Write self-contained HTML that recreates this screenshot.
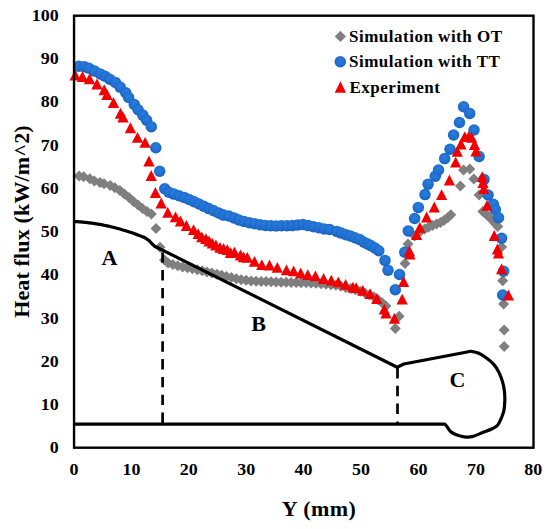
<!DOCTYPE html>
<html><head><meta charset="utf-8"><style>
html,body{margin:0;padding:0;background:#fff;width:550px;height:529px;overflow:hidden}
svg{display:block}
.t{font-family:"Liberation Serif",serif;font-weight:bold;font-size:18px;fill:#000}
.ti{font-family:"Liberation Serif",serif;font-weight:bold;font-size:22px;fill:#000}
.lg{font-family:"Liberation Serif",serif;font-weight:bold;font-size:17px;letter-spacing:0.5px;fill:#000}
</style></head><body>
<svg width="550" height="529" viewBox="0 0 550 529">
<defs><radialGradient id="bg" cx="0.5" cy="0.45" r="0.55" fx="0.5" fy="0.35"><stop offset="0" stop-color="#2b7ddc"/><stop offset="0.7" stop-color="#1f6fd0"/><stop offset="1" stop-color="#1760bd"/></radialGradient></defs>
<path d="M79.1 170.4L84.6 175.9L79.1 181.4L73.6 175.9Z" fill="#7f7f7f"/>
<path d="M83.6 171.2L89.1 176.7L83.6 182.2L78.1 176.7Z" fill="#7f7f7f"/>
<path d="M89.8 173.2L95.3 178.7L89.8 184.2L84.3 178.7Z" fill="#7f7f7f"/>
<path d="M94.4 175.5L99.9 181.0L94.4 186.5L88.9 181.0Z" fill="#7f7f7f"/>
<path d="M100.0 176.9L105.5 182.4L100.0 187.9L94.5 182.4Z" fill="#7f7f7f"/>
<path d="M104.0 178.3L109.5 183.8L104.0 189.3L98.5 183.8Z" fill="#7f7f7f"/>
<path d="M110.2 180.0L115.7 185.5L110.2 191.0L104.7 185.5Z" fill="#7f7f7f"/>
<path d="M114.8 182.3L120.3 187.8L114.8 193.3L109.3 187.8Z" fill="#7f7f7f"/>
<path d="M119.9 185.1L125.4 190.6L119.9 196.1L114.4 190.6Z" fill="#7f7f7f"/>
<path d="M124.4 188.5L129.9 194.0L124.4 199.5L118.9 194.0Z" fill="#7f7f7f"/>
<path d="M129.0 191.9L134.5 197.4L129.0 202.9L123.5 197.4Z" fill="#7f7f7f"/>
<path d="M133.5 196.0L139.0 201.5L133.5 207.0L128.0 201.5Z" fill="#7f7f7f"/>
<path d="M138.0 199.5L143.5 205.0L138.0 210.5L132.5 205.0Z" fill="#7f7f7f"/>
<path d="M142.5 203.0L148.0 208.5L142.5 214.0L137.0 208.5Z" fill="#7f7f7f"/>
<path d="M147.0 206.0L152.5 211.5L147.0 217.0L141.5 211.5Z" fill="#7f7f7f"/>
<path d="M151.4 208.5L156.9 214.0L151.4 219.5L145.9 214.0Z" fill="#7f7f7f"/>
<path d="M156.0 223.1L161.5 228.6L156.0 234.1L150.5 228.6Z" fill="#7f7f7f"/>
<path d="M160.0 241.8L165.5 247.3L160.0 252.8L154.5 247.3Z" fill="#7f7f7f"/>
<path d="M164.5 254.5L170.0 260.0L164.5 265.5L159.0 260.0Z" fill="#7f7f7f"/>
<path d="M168.1 257.6L173.6 263.1L168.1 268.6L162.6 263.1Z" fill="#7f7f7f"/>
<path d="M172.8 259.1L178.3 264.6L172.8 270.1L167.3 264.6Z" fill="#7f7f7f"/>
<path d="M177.7 260.2L183.2 265.7L177.7 271.2L172.2 265.7Z" fill="#7f7f7f"/>
<path d="M182.6 261.4L188.1 266.9L182.6 272.4L177.1 266.9Z" fill="#7f7f7f"/>
<path d="M187.5 262.3L193.0 267.8L187.5 273.3L182.0 267.8Z" fill="#7f7f7f"/>
<path d="M192.4 263.3L197.9 268.8L192.4 274.3L186.9 268.8Z" fill="#7f7f7f"/>
<path d="M197.3 264.2L202.8 269.7L197.3 275.2L191.8 269.7Z" fill="#7f7f7f"/>
<path d="M202.2 265.3L207.7 270.8L202.2 276.3L196.7 270.8Z" fill="#7f7f7f"/>
<path d="M207.0 266.5L212.5 272.0L207.0 277.5L201.5 272.0Z" fill="#7f7f7f"/>
<path d="M211.9 267.6L217.4 273.1L211.9 278.6L206.4 273.1Z" fill="#7f7f7f"/>
<path d="M216.8 268.7L222.3 274.2L216.8 279.7L211.3 274.2Z" fill="#7f7f7f"/>
<path d="M221.6 269.8L227.1 275.3L221.6 280.8L216.1 275.3Z" fill="#7f7f7f"/>
<path d="M226.5 271.0L232.0 276.5L226.5 282.0L221.0 276.5Z" fill="#7f7f7f"/>
<path d="M231.4 272.1L236.9 277.6L231.4 283.1L225.9 277.6Z" fill="#7f7f7f"/>
<path d="M236.3 273.2L241.8 278.7L236.3 284.2L230.8 278.7Z" fill="#7f7f7f"/>
<path d="M241.2 274.2L246.7 279.7L241.2 285.2L235.7 279.7Z" fill="#7f7f7f"/>
<path d="M246.1 274.8L251.6 280.3L246.1 285.8L240.6 280.3Z" fill="#7f7f7f"/>
<path d="M251.1 275.4L256.6 280.9L251.1 286.4L245.6 280.9Z" fill="#7f7f7f"/>
<path d="M256.1 275.7L261.6 281.2L256.1 286.7L250.6 281.2Z" fill="#7f7f7f"/>
<path d="M261.1 275.9L266.6 281.4L261.1 286.9L255.6 281.4Z" fill="#7f7f7f"/>
<path d="M266.1 276.1L271.6 281.6L266.1 287.1L260.6 281.6Z" fill="#7f7f7f"/>
<path d="M271.1 276.3L276.6 281.8L271.1 287.3L265.6 281.8Z" fill="#7f7f7f"/>
<path d="M276.1 276.5L281.6 282.0L276.1 287.5L270.6 282.0Z" fill="#7f7f7f"/>
<path d="M281.1 276.7L286.6 282.2L281.1 287.7L275.6 282.2Z" fill="#7f7f7f"/>
<path d="M286.1 276.8L291.6 282.3L286.1 287.8L280.6 282.3Z" fill="#7f7f7f"/>
<path d="M291.1 277.0L296.6 282.5L291.1 288.0L285.6 282.5Z" fill="#7f7f7f"/>
<path d="M296.1 277.1L301.6 282.6L296.1 288.1L290.6 282.6Z" fill="#7f7f7f"/>
<path d="M301.1 277.2L306.6 282.7L301.1 288.2L295.6 282.7Z" fill="#7f7f7f"/>
<path d="M306.1 277.3L311.6 282.8L306.1 288.3L300.6 282.8Z" fill="#7f7f7f"/>
<path d="M311.1 277.5L316.6 283.0L311.1 288.5L305.6 283.0Z" fill="#7f7f7f"/>
<path d="M316.0 277.8L321.5 283.3L316.0 288.8L310.5 283.3Z" fill="#7f7f7f"/>
<path d="M321.0 278.3L326.5 283.8L321.0 289.3L315.5 283.8Z" fill="#7f7f7f"/>
<path d="M326.0 278.7L331.5 284.2L326.0 289.7L320.5 284.2Z" fill="#7f7f7f"/>
<path d="M331.0 279.2L336.5 284.7L331.0 290.2L325.5 284.7Z" fill="#7f7f7f"/>
<path d="M335.9 279.8L341.4 285.3L335.9 290.8L330.4 285.3Z" fill="#7f7f7f"/>
<path d="M340.8 280.8L346.3 286.3L340.8 291.8L335.3 286.3Z" fill="#7f7f7f"/>
<path d="M345.7 281.9L351.2 287.4L345.7 292.9L340.2 287.4Z" fill="#7f7f7f"/>
<path d="M350.6 282.9L356.1 288.4L350.6 293.9L345.1 288.4Z" fill="#7f7f7f"/>
<path d="M355.4 284.3L360.9 289.8L355.4 295.3L349.9 289.8Z" fill="#7f7f7f"/>
<path d="M360.2 285.8L365.7 291.3L360.2 296.8L354.7 291.3Z" fill="#7f7f7f"/>
<path d="M364.9 287.6L370.4 293.1L364.9 298.6L359.4 293.1Z" fill="#7f7f7f"/>
<path d="M369.5 289.5L375.0 295.0L369.5 300.5L364.0 295.0Z" fill="#7f7f7f"/>
<path d="M374.0 291.5L379.5 297.0L374.0 302.5L368.5 297.0Z" fill="#7f7f7f"/>
<path d="M378.2 294.2L383.7 299.7L378.2 305.2L372.7 299.7Z" fill="#7f7f7f"/>
<path d="M382.1 297.3L387.6 302.8L382.1 308.3L376.6 302.8Z" fill="#7f7f7f"/>
<path d="M385.9 300.6L391.4 306.1L385.9 311.6L380.4 306.1Z" fill="#7f7f7f"/>
<path d="M395.3 323.0L400.8 328.5L395.3 334.0L389.8 328.5Z" fill="#7f7f7f"/>
<path d="M399.1 310.7L404.6 316.2L399.1 321.7L393.6 316.2Z" fill="#7f7f7f"/>
<path d="M405.0 258.1L410.5 263.6L405.0 269.1L399.5 263.6Z" fill="#7f7f7f"/>
<path d="M408.0 238.5L413.5 244.0L408.0 249.5L402.5 244.0Z" fill="#7f7f7f"/>
<path d="M414.5 230.5L420.0 236.0L414.5 241.5L409.0 236.0Z" fill="#7f7f7f"/>
<path d="M420.8 225.5L426.3 231.0L420.8 236.5L415.3 231.0Z" fill="#7f7f7f"/>
<path d="M424.6 223.5L430.1 229.0L424.6 234.5L419.1 229.0Z" fill="#7f7f7f"/>
<path d="M428.5 221.7L434.0 227.2L428.5 232.7L423.0 227.2Z" fill="#7f7f7f"/>
<path d="M432.5 220.0L438.0 225.5L432.5 231.0L427.0 225.5Z" fill="#7f7f7f"/>
<path d="M436.5 218.5L442.0 224.0L436.5 229.5L431.0 224.0Z" fill="#7f7f7f"/>
<path d="M440.5 217.1L446.0 222.6L440.5 228.1L435.0 222.6Z" fill="#7f7f7f"/>
<path d="M444.1 214.7L449.6 220.2L444.1 225.7L438.6 220.2Z" fill="#7f7f7f"/>
<path d="M447.6 212.2L453.1 217.7L447.6 223.2L442.1 217.7Z" fill="#7f7f7f"/>
<path d="M450.8 209.3L456.3 214.8L450.8 220.3L445.3 214.8Z" fill="#7f7f7f"/>
<path d="M460.4 180.5L465.9 186.0L460.4 191.5L454.9 186.0Z" fill="#7f7f7f"/>
<path d="M463.5 164.5L469.0 170.0L463.5 175.5L458.0 170.0Z" fill="#7f7f7f"/>
<path d="M469.8 163.5L475.3 169.0L469.8 174.5L464.3 169.0Z" fill="#7f7f7f"/>
<path d="M473.9 173.5L479.4 179.0L473.9 184.5L468.4 179.0Z" fill="#7f7f7f"/>
<path d="M479.1 189.5L484.6 195.0L479.1 200.5L473.6 195.0Z" fill="#7f7f7f"/>
<path d="M482.9 206.1L488.4 211.6L482.9 217.1L477.4 211.6Z" fill="#7f7f7f"/>
<path d="M486.1 208.8L491.6 214.3L486.1 219.8L480.6 214.3Z" fill="#7f7f7f"/>
<path d="M489.3 211.5L494.8 217.0L489.3 222.5L483.8 217.0Z" fill="#7f7f7f"/>
<path d="M492.1 214.6L497.6 220.1L492.1 225.6L486.6 220.1Z" fill="#7f7f7f"/>
<path d="M494.9 217.8L500.4 223.3L494.9 228.8L489.4 223.3Z" fill="#7f7f7f"/>
<path d="M497.8 220.9L503.3 226.4L497.8 231.9L492.3 226.4Z" fill="#7f7f7f"/>
<path d="M501.6 241.4L507.1 246.9L501.6 252.4L496.1 246.9Z" fill="#7f7f7f"/>
<path d="M502.7 275.3L508.2 280.8L502.7 286.3L497.2 280.8Z" fill="#7f7f7f"/>
<path d="M503.6 298.4L509.1 303.9L503.6 309.4L498.1 303.9Z" fill="#7f7f7f"/>
<path d="M504.2 324.5L509.7 330.0L504.2 335.5L498.7 330.0Z" fill="#7f7f7f"/>
<path d="M504.2 341.1L509.7 346.6L504.2 352.1L498.7 346.6Z" fill="#7f7f7f"/>
<circle cx="78.8" cy="66.3" r="5.75" fill="url(#bg)"/>
<circle cx="84.2" cy="66.8" r="5.75" fill="url(#bg)"/>
<circle cx="88.9" cy="68.2" r="5.75" fill="url(#bg)"/>
<circle cx="94.6" cy="71.1" r="5.75" fill="url(#bg)"/>
<circle cx="100.2" cy="73.9" r="5.75" fill="url(#bg)"/>
<circle cx="105.0" cy="76.2" r="5.75" fill="url(#bg)"/>
<circle cx="109.7" cy="79.2" r="5.75" fill="url(#bg)"/>
<circle cx="115.4" cy="82.4" r="5.75" fill="url(#bg)"/>
<circle cx="120.1" cy="87.1" r="5.75" fill="url(#bg)"/>
<circle cx="125.8" cy="92.8" r="5.75" fill="url(#bg)"/>
<circle cx="128.6" cy="97.5" r="5.75" fill="url(#bg)"/>
<circle cx="134.3" cy="104.5" r="5.75" fill="url(#bg)"/>
<circle cx="138.1" cy="109.8" r="5.75" fill="url(#bg)"/>
<circle cx="142.8" cy="115.1" r="5.75" fill="url(#bg)"/>
<circle cx="146.6" cy="120.2" r="5.75" fill="url(#bg)"/>
<circle cx="151.3" cy="126.8" r="5.75" fill="url(#bg)"/>
<circle cx="155.8" cy="147.8" r="5.75" fill="url(#bg)"/>
<circle cx="159.7" cy="171.3" r="5.75" fill="url(#bg)"/>
<circle cx="164.8" cy="188.7" r="5.75" fill="url(#bg)"/>
<circle cx="168.8" cy="192.3" r="5.75" fill="url(#bg)"/>
<circle cx="173.9" cy="194.1" r="5.75" fill="url(#bg)"/>
<circle cx="179.0" cy="195.8" r="5.75" fill="url(#bg)"/>
<circle cx="184.2" cy="197.4" r="5.75" fill="url(#bg)"/>
<circle cx="189.1" cy="199.5" r="5.75" fill="url(#bg)"/>
<circle cx="194.1" cy="201.8" r="5.75" fill="url(#bg)"/>
<circle cx="199.0" cy="204.0" r="5.75" fill="url(#bg)"/>
<circle cx="203.8" cy="206.3" r="5.75" fill="url(#bg)"/>
<circle cx="208.7" cy="208.6" r="5.75" fill="url(#bg)"/>
<circle cx="213.7" cy="210.8" r="5.75" fill="url(#bg)"/>
<circle cx="218.6" cy="212.9" r="5.75" fill="url(#bg)"/>
<circle cx="223.6" cy="215.1" r="5.75" fill="url(#bg)"/>
<circle cx="228.9" cy="216.0" r="5.75" fill="url(#bg)"/>
<circle cx="234.0" cy="217.9" r="5.75" fill="url(#bg)"/>
<circle cx="238.9" cy="220.0" r="5.75" fill="url(#bg)"/>
<circle cx="244.1" cy="221.5" r="5.75" fill="url(#bg)"/>
<circle cx="249.3" cy="222.7" r="5.75" fill="url(#bg)"/>
<circle cx="254.6" cy="223.8" r="5.75" fill="url(#bg)"/>
<circle cx="260.0" cy="224.7" r="5.75" fill="url(#bg)"/>
<circle cx="265.3" cy="225.4" r="5.75" fill="url(#bg)"/>
<circle cx="270.7" cy="225.8" r="5.75" fill="url(#bg)"/>
<circle cx="276.1" cy="225.9" r="5.75" fill="url(#bg)"/>
<circle cx="281.5" cy="225.7" r="5.75" fill="url(#bg)"/>
<circle cx="286.9" cy="225.7" r="5.75" fill="url(#bg)"/>
<circle cx="292.3" cy="225.6" r="5.75" fill="url(#bg)"/>
<circle cx="297.6" cy="224.9" r="5.75" fill="url(#bg)"/>
<circle cx="302.9" cy="224.5" r="5.75" fill="url(#bg)"/>
<circle cx="308.2" cy="225.6" r="5.75" fill="url(#bg)"/>
<circle cx="313.5" cy="226.7" r="5.75" fill="url(#bg)"/>
<circle cx="318.8" cy="227.8" r="5.75" fill="url(#bg)"/>
<circle cx="324.1" cy="228.9" r="5.75" fill="url(#bg)"/>
<circle cx="329.5" cy="229.4" r="5.75" fill="url(#bg)"/>
<circle cx="336.8" cy="231.4" r="5.75" fill="url(#bg)"/>
<circle cx="341.3" cy="233.1" r="5.75" fill="url(#bg)"/>
<circle cx="345.9" cy="234.8" r="5.75" fill="url(#bg)"/>
<circle cx="350.4" cy="236.0" r="5.75" fill="url(#bg)"/>
<circle cx="354.9" cy="237.7" r="5.75" fill="url(#bg)"/>
<circle cx="359.5" cy="239.4" r="5.75" fill="url(#bg)"/>
<circle cx="364.0" cy="242.2" r="5.75" fill="url(#bg)"/>
<circle cx="367.4" cy="243.9" r="5.75" fill="url(#bg)"/>
<circle cx="370.8" cy="245.6" r="5.75" fill="url(#bg)"/>
<circle cx="374.8" cy="247.9" r="5.75" fill="url(#bg)"/>
<circle cx="378.8" cy="250.7" r="5.75" fill="url(#bg)"/>
<circle cx="385.0" cy="260.4" r="5.75" fill="url(#bg)"/>
<circle cx="388.0" cy="270.3" r="5.75" fill="url(#bg)"/>
<circle cx="395.3" cy="289.7" r="5.75" fill="url(#bg)"/>
<circle cx="399.5" cy="274.5" r="5.75" fill="url(#bg)"/>
<circle cx="404.8" cy="252.3" r="5.75" fill="url(#bg)"/>
<circle cx="408.3" cy="230.9" r="5.75" fill="url(#bg)"/>
<circle cx="414.6" cy="218.5" r="5.75" fill="url(#bg)"/>
<circle cx="418.3" cy="207.4" r="5.75" fill="url(#bg)"/>
<circle cx="425.0" cy="194.6" r="5.75" fill="url(#bg)"/>
<circle cx="428.1" cy="184.2" r="5.75" fill="url(#bg)"/>
<circle cx="435.3" cy="176.3" r="5.75" fill="url(#bg)"/>
<circle cx="438.5" cy="170.0" r="5.75" fill="url(#bg)"/>
<circle cx="444.7" cy="158.6" r="5.75" fill="url(#bg)"/>
<circle cx="450.0" cy="149.2" r="5.75" fill="url(#bg)"/>
<circle cx="453.6" cy="135.0" r="5.75" fill="url(#bg)"/>
<circle cx="459.5" cy="122.5" r="5.75" fill="url(#bg)"/>
<circle cx="463.6" cy="106.8" r="5.75" fill="url(#bg)"/>
<circle cx="469.7" cy="113.4" r="5.75" fill="url(#bg)"/>
<circle cx="474.0" cy="130.0" r="5.75" fill="url(#bg)"/>
<circle cx="479.1" cy="156.5" r="5.75" fill="url(#bg)"/>
<circle cx="484.0" cy="179.4" r="5.75" fill="url(#bg)"/>
<circle cx="488.1" cy="195.0" r="5.75" fill="url(#bg)"/>
<circle cx="493.3" cy="204.3" r="5.75" fill="url(#bg)"/>
<circle cx="495.3" cy="209.5" r="5.75" fill="url(#bg)"/>
<circle cx="498.5" cy="217.8" r="5.75" fill="url(#bg)"/>
<circle cx="501.6" cy="238.2" r="5.75" fill="url(#bg)"/>
<circle cx="503.6" cy="271.3" r="5.75" fill="url(#bg)"/>
<circle cx="502.7" cy="295.0" r="5.75" fill="url(#bg)"/>
<path d="M75.2 69.5L80.9 80.5L69.5 80.5Z" fill="#f00000"/>
<path d="M82.5 71.0L88.2 81.9L76.8 81.9Z" fill="#f00000"/>
<path d="M89.6 73.2L95.2 84.2L83.9 84.2Z" fill="#f00000"/>
<path d="M97.0 78.5L102.7 89.5L91.3 89.5Z" fill="#f00000"/>
<path d="M104.2 84.2L109.9 95.2L98.5 95.2Z" fill="#f00000"/>
<path d="M107.0 89.0L112.7 100.0L101.3 100.0Z" fill="#f00000"/>
<path d="M113.5 97.0L119.2 108.0L107.8 108.0Z" fill="#f00000"/>
<path d="M120.5 107.8L126.2 118.7L114.8 118.7Z" fill="#f00000"/>
<path d="M123.0 111.5L128.7 122.5L117.3 122.5Z" fill="#f00000"/>
<path d="M130.4 122.3L136.1 133.2L124.8 133.2Z" fill="#f00000"/>
<path d="M137.5 131.9L143.2 142.8L131.8 142.8Z" fill="#f00000"/>
<path d="M145.1 136.9L150.8 147.8L139.4 147.8Z" fill="#f00000"/>
<path d="M149.0 155.6L154.7 166.4L143.3 166.4Z" fill="#f00000"/>
<path d="M151.2 170.1L156.8 180.9L145.5 180.9Z" fill="#f00000"/>
<path d="M155.4 187.1L161.1 197.9L149.8 197.9Z" fill="#f00000"/>
<path d="M161.2 197.6L166.8 208.4L155.5 208.4Z" fill="#f00000"/>
<path d="M167.8 206.9L173.5 217.8L162.2 217.8Z" fill="#f00000"/>
<path d="M175.5 211.5L181.2 222.3L169.8 222.3Z" fill="#f00000"/>
<path d="M180.5 215.6L186.2 226.4L174.8 226.4Z" fill="#f00000"/>
<path d="M186.4 220.1L192.1 230.9L180.8 230.9Z" fill="#f00000"/>
<path d="M193.6 224.2L199.2 235.0L187.9 235.0Z" fill="#f00000"/>
<path d="M198.2 228.2L203.8 239.1L192.5 239.1Z" fill="#f00000"/>
<path d="M201.8 231.5L207.5 242.3L196.2 242.3Z" fill="#f00000"/>
<path d="M205.9 233.2L211.6 244.1L200.2 244.1Z" fill="#f00000"/>
<path d="M209.1 235.6L214.8 246.4L203.4 246.4Z" fill="#f00000"/>
<path d="M212.3 237.8L218.0 248.6L206.7 248.6Z" fill="#f00000"/>
<path d="M215.9 239.6L221.6 250.4L210.2 250.4Z" fill="#f00000"/>
<path d="M220.0 241.9L225.7 252.8L214.3 252.8Z" fill="#f00000"/>
<path d="M223.6 243.1L229.2 253.9L217.9 253.9Z" fill="#f00000"/>
<path d="M227.3 244.2L233.0 255.0L221.7 255.0Z" fill="#f00000"/>
<path d="M230.5 247.1L236.2 257.9L224.8 257.9Z" fill="#f00000"/>
<path d="M234.5 246.7L240.2 257.6L228.8 257.6Z" fill="#f00000"/>
<path d="M240.5 249.6L246.2 260.4L234.8 260.4Z" fill="#f00000"/>
<path d="M243.6 251.4L249.2 262.3L237.9 262.3Z" fill="#f00000"/>
<path d="M247.3 251.9L253.0 262.8L241.7 262.8Z" fill="#f00000"/>
<path d="M254.5 255.9L260.1 266.8L248.8 266.8Z" fill="#f00000"/>
<path d="M261.8 259.2L267.4 270.1L256.2 270.1Z" fill="#f00000"/>
<path d="M269.5 259.6L275.1 270.4L263.9 270.4Z" fill="#f00000"/>
<path d="M277.3 261.9L282.9 272.8L271.7 272.8Z" fill="#f00000"/>
<path d="M286.5 264.4L292.1 275.2L280.9 275.2Z" fill="#f00000"/>
<path d="M293.6 265.4L299.2 276.3L288.0 276.3Z" fill="#f00000"/>
<path d="M300.7 267.6L306.3 278.4L295.1 278.4Z" fill="#f00000"/>
<path d="M307.8 269.2L313.4 280.1L302.2 280.1Z" fill="#f00000"/>
<path d="M315.4 270.4L321.0 281.2L309.8 281.2Z" fill="#f00000"/>
<path d="M323.6 273.1L329.2 283.9L318.0 283.9Z" fill="#f00000"/>
<path d="M331.3 274.7L336.9 285.6L325.7 285.6Z" fill="#f00000"/>
<path d="M338.3 276.4L343.9 287.2L332.7 287.2Z" fill="#f00000"/>
<path d="M345.6 278.9L351.2 289.8L340.0 289.8Z" fill="#f00000"/>
<path d="M352.9 281.7L358.5 292.6L347.2 292.6Z" fill="#f00000"/>
<path d="M356.2 282.2L361.8 293.1L350.6 293.1Z" fill="#f00000"/>
<path d="M362.8 284.9L368.4 295.8L357.2 295.8Z" fill="#f00000"/>
<path d="M370.1 288.2L375.8 299.1L364.5 299.1Z" fill="#f00000"/>
<path d="M376.8 293.1L382.4 303.9L371.2 303.9Z" fill="#f00000"/>
<path d="M384.3 303.7L389.9 314.6L378.7 314.6Z" fill="#f00000"/>
<path d="M386.0 307.7L391.6 318.6L380.4 318.6Z" fill="#f00000"/>
<path d="M394.4 312.9L400.0 323.8L388.8 323.8Z" fill="#f00000"/>
<path d="M402.1 293.7L407.8 304.6L396.5 304.6Z" fill="#f00000"/>
<path d="M403.6 276.1L409.2 286.9L398.0 286.9Z" fill="#f00000"/>
<path d="M409.4 245.4L415.0 256.2L403.8 256.2Z" fill="#f00000"/>
<path d="M410.0 248.6L415.6 259.4L404.4 259.4Z" fill="#f00000"/>
<path d="M416.6 229.1L422.2 239.9L411.0 239.9Z" fill="#f00000"/>
<path d="M419.8 222.0L425.4 232.8L414.2 232.8Z" fill="#f00000"/>
<path d="M426.6 211.6L432.2 222.4L421.0 222.4Z" fill="#f00000"/>
<path d="M434.3 201.6L439.9 212.4L428.7 212.4Z" fill="#f00000"/>
<path d="M441.6 189.2L447.2 200.0L436.0 200.0Z" fill="#f00000"/>
<path d="M449.4 174.6L455.0 185.4L443.8 185.4Z" fill="#f00000"/>
<path d="M455.7 156.8L461.3 167.6L450.1 167.6Z" fill="#f00000"/>
<path d="M457.3 146.0L462.9 156.8L451.7 156.8Z" fill="#f00000"/>
<path d="M461.0 138.6L466.6 149.4L455.4 149.4Z" fill="#f00000"/>
<path d="M464.8 131.2L470.4 142.0L459.2 142.0Z" fill="#f00000"/>
<path d="M468.6 131.2L474.2 142.0L463.0 142.0Z" fill="#f00000"/>
<path d="M471.6 131.9L477.2 142.8L466.0 142.8Z" fill="#f00000"/>
<path d="M474.5 139.1L480.1 149.9L468.9 149.9Z" fill="#f00000"/>
<path d="M476.0 145.6L481.6 156.4L470.4 156.4Z" fill="#f00000"/>
<path d="M482.3 171.2L487.9 182.1L476.7 182.1Z" fill="#f00000"/>
<path d="M483.0 177.1L488.6 187.9L477.4 187.9Z" fill="#f00000"/>
<path d="M483.8 183.1L489.4 193.9L478.2 193.9Z" fill="#f00000"/>
<path d="M487.0 199.9L492.6 210.8L481.4 210.8Z" fill="#f00000"/>
<path d="M494.3 230.1L499.9 240.9L488.7 240.9Z" fill="#f00000"/>
<path d="M497.4 243.6L503.0 254.4L491.8 254.4Z" fill="#f00000"/>
<path d="M498.5 247.8L504.1 258.6L492.9 258.6Z" fill="#f00000"/>
<path d="M501.6 263.4L507.2 274.2L496.0 274.2Z" fill="#f00000"/>
<path d="M508.4 289.6L514.0 300.4L502.8 300.4Z" fill="#f00000"/>
<rect x="74.05" y="15.7" width="459.45" height="432" fill="none" stroke="#000" stroke-width="2.4"/>
<path d="M74.0 221.54 C74.50 221.57 76.00 221.64 77.00 221.70 C78.00 221.76 79.00 221.83 80.00 221.91 C81.00 221.99 82.00 222.07 83.00 222.16 C84.00 222.25 85.00 222.35 86.00 222.46 C87.00 222.57 88.00 222.68 89.00 222.80 C90.00 222.93 91.00 223.06 92.00 223.20 C93.00 223.33 94.00 223.48 95.00 223.63 C96.00 223.79 97.00 223.95 98.00 224.12 C99.00 224.29 100.00 224.46 101.00 224.65 C102.00 224.83 103.00 225.02 104.00 225.22 C105.00 225.42 106.00 225.63 107.00 225.85 C108.00 226.06 109.00 226.28 110.00 226.52 C111.00 226.75 112.00 226.98 113.00 227.23 C114.00 227.48 115.00 227.73 116.00 227.99 C117.00 228.25 118.00 228.52 119.00 228.80 C120.00 229.08 121.00 229.36 122.00 229.66 C123.00 229.95 124.00 230.25 125.00 230.56 C126.00 230.86 127.00 231.18 128.00 231.50 C129.00 231.83 130.00 232.16 131.00 232.50 C132.00 232.84 133.00 233.18 134.00 233.54 C135.00 233.89 136.00 234.25 137.00 234.62 C138.00 234.99 138.75 235.28 140.00 235.76 C141.25 236.23 143.02 236.69 144.50 237.50 C145.98 238.31 147.68 239.58 148.90 240.60 C150.12 241.62 150.85 242.67 151.80 243.60 C152.75 244.53 154.13 245.77 154.60 246.20 L397.2 367.2 L403.8 364 L468.5 351.7 C468.97 351.63 469.57 351.05 471.30 351.30 C473.03 351.55 476.37 352.08 478.90 353.20 C481.43 354.32 483.98 356.10 486.50 358.00 C489.02 359.90 491.95 362.25 494.00 364.60 C496.05 366.95 497.38 369.27 498.80 372.10 C500.22 374.93 501.57 378.45 502.50 381.60 C503.43 384.75 504.02 387.85 504.40 391.00 C504.78 394.15 504.87 397.33 504.80 400.50 C504.73 403.67 504.53 407.17 504.00 410.00 C503.47 412.83 502.63 415.00 501.60 417.50 C500.57 420.00 499.38 423.12 497.80 425.00 C496.22 426.88 494.62 427.53 492.10 428.80 C489.58 430.07 486.02 431.30 482.70 432.60 C479.38 433.90 475.28 435.90 472.20 436.60 C469.12 437.30 466.85 437.10 464.20 436.80 C461.55 436.50 458.58 435.68 456.30 434.80 C454.02 433.92 452.00 432.80 450.50 431.50 C449.00 430.20 448.22 428.22 447.30 427.00 C446.38 425.78 445.38 424.67 445.00 424.20 L74 424.2" fill="none" stroke="#000" stroke-width="3.2" stroke-linejoin="round"/>
<path d="M162.6 252.3 L162.6 424" fill="none" stroke="#000" stroke-width="2.7" stroke-dasharray="10.4 7.4"/>
<path d="M397.5 368 L397.5 424" fill="none" stroke="#000" stroke-width="2.7" stroke-dasharray="10.4 7.4"/>
<text transform="translate(58.8 453.2) scale(1 0.97)" text-anchor="end" class="t">0</text>
<text transform="translate(58.8 410.0) scale(1 0.97)" text-anchor="end" class="t">10</text>
<text transform="translate(58.8 366.7) scale(1 0.97)" text-anchor="end" class="t">20</text>
<text transform="translate(58.8 323.5) scale(1 0.97)" text-anchor="end" class="t">30</text>
<text transform="translate(58.8 280.3) scale(1 0.97)" text-anchor="end" class="t">40</text>
<text transform="translate(58.8 237.1) scale(1 0.97)" text-anchor="end" class="t">50</text>
<text transform="translate(58.8 193.8) scale(1 0.97)" text-anchor="end" class="t">60</text>
<text transform="translate(58.8 150.6) scale(1 0.97)" text-anchor="end" class="t">70</text>
<text transform="translate(58.8 107.4) scale(1 0.97)" text-anchor="end" class="t">80</text>
<text transform="translate(58.8 64.1) scale(1 0.97)" text-anchor="end" class="t">90</text>
<text transform="translate(58.8 20.9) scale(1 0.97)" text-anchor="end" class="t">100</text>
<text transform="translate(74.0 474.6) scale(1 0.97)" text-anchor="middle" class="t">0</text>
<text transform="translate(131.4 474.6) scale(1 0.97)" text-anchor="middle" class="t">10</text>
<text transform="translate(188.8 474.6) scale(1 0.97)" text-anchor="middle" class="t">20</text>
<text transform="translate(246.2 474.6) scale(1 0.97)" text-anchor="middle" class="t">30</text>
<text transform="translate(303.6 474.6) scale(1 0.97)" text-anchor="middle" class="t">40</text>
<text transform="translate(361.1 474.6) scale(1 0.97)" text-anchor="middle" class="t">50</text>
<text transform="translate(418.5 474.6) scale(1 0.97)" text-anchor="middle" class="t">60</text>
<text transform="translate(475.9 474.6) scale(1 0.97)" text-anchor="middle" class="t">70</text>
<text transform="translate(533.3 474.6) scale(1 0.97)" text-anchor="middle" class="t">80</text>
<text x="319" y="516" text-anchor="middle" class="ti" letter-spacing="0.4">Y (mm)</text>
<text transform="translate(29 221.5) rotate(-90)" text-anchor="middle" class="ti" letter-spacing="0.15">Heat flux (kW/m^2)</text>
<text x="109.5" y="264.8" text-anchor="middle" class="ti">A</text>
<text x="258.6" y="331.2" text-anchor="middle" class="ti">B</text>
<text x="457.4" y="386.7" text-anchor="middle" class="ti">C</text>
<path d="M340.4 30.8L346.0 36.4L340.4 42.0L334.8 36.4Z" fill="#7f7f7f"/>
<circle cx="340.3" cy="61.8" r="5.75" fill="url(#bg)"/>
<path d="M340.4 81.3L346.1 92.7L334.7 92.7Z" fill="#f00000"/>
<text x="349" y="41.6" class="lg">Simulation with OT</text>
<text x="349" y="67" class="lg">Simulation with TT</text>
<text x="349.5" y="92.6" class="lg">Experiment</text>
</svg>
</body></html>
